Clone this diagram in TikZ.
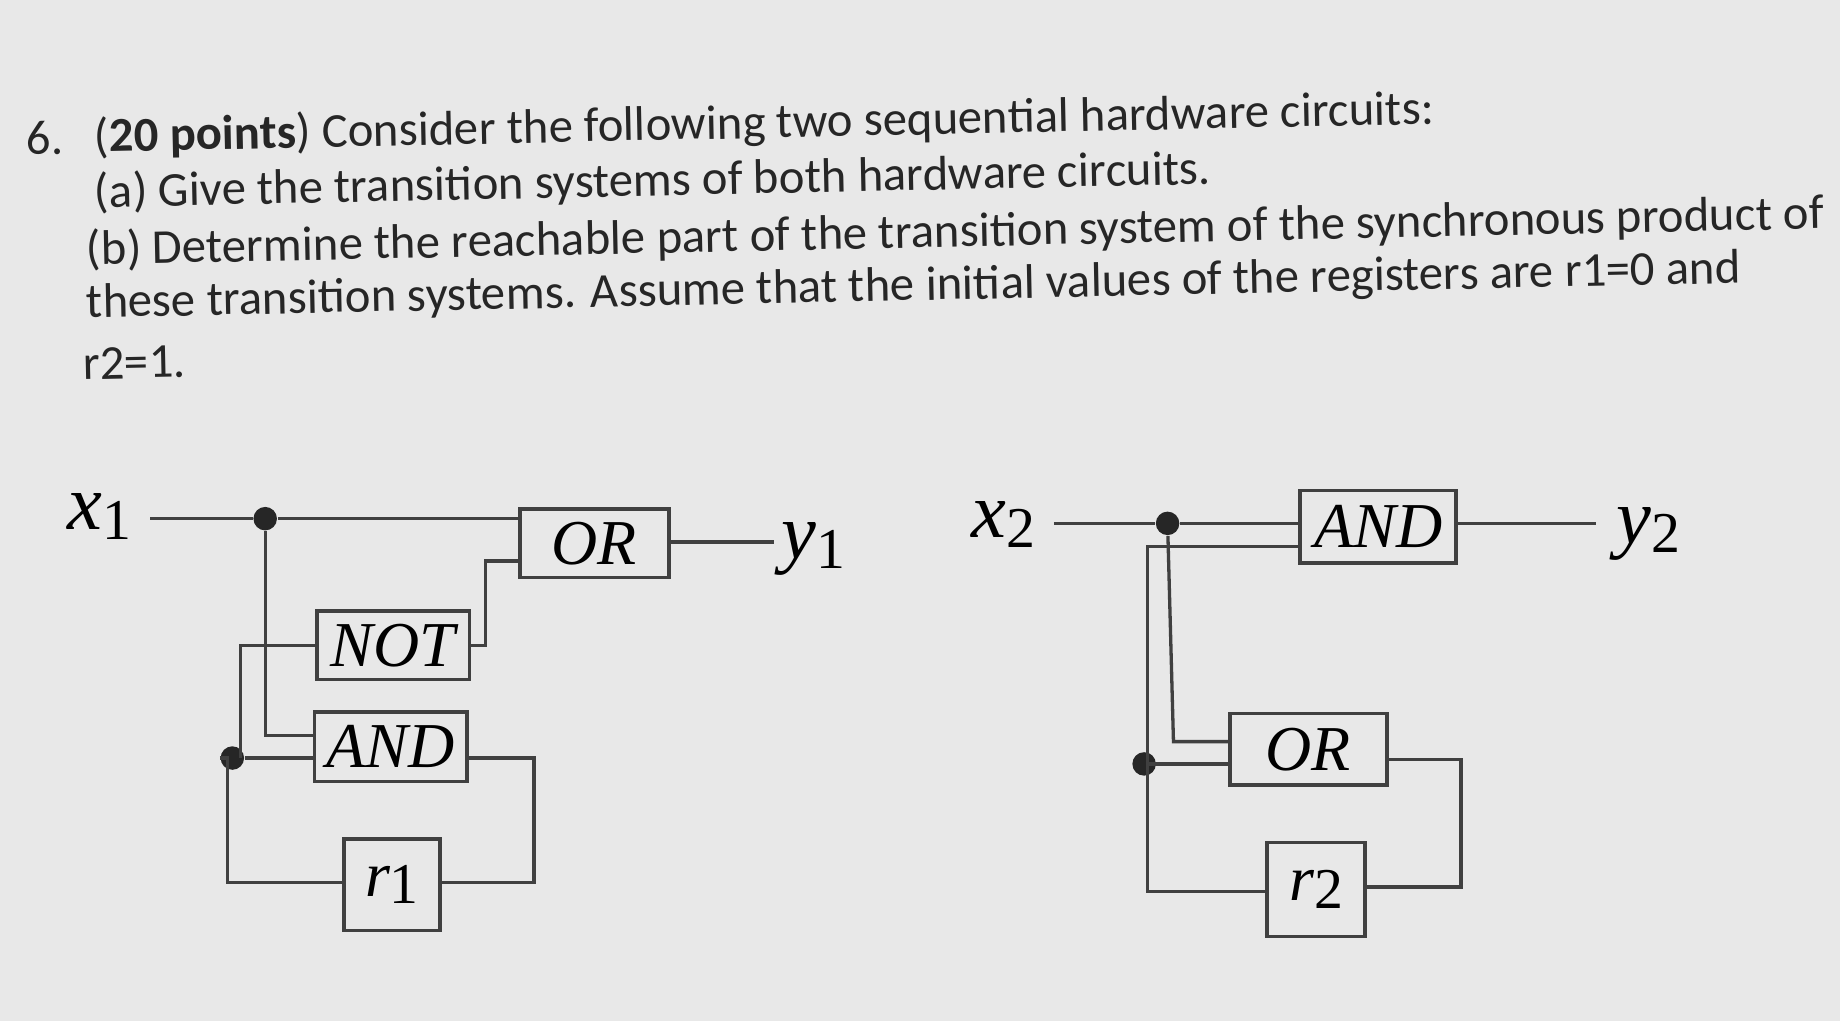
\documentclass[tikz,border=0pt]{standalone}
\usepackage{fontspec}
\setmainfont{Carlito}
\newfontfamily\tnr{Liberation Serif}
\newcommand{\lsub}[2]{\textit{#1}\raisebox{-0.12em}{\upshape\fontsize{14}{14}\selectfont #2}}
\begin{document}
\begin{tikzpicture}[x=0.01cm,y=-0.01cm,
  gate/.style={draw=black!75,line width=0.9pt,inner sep=0pt,font=\tnr\itshape\fontsize{15.5}{15.5}\selectfont},
  wire/.style={draw=black!75,line width=0.8pt},
  dot/.style={circle,fill=black!85,inner sep=0pt,minimum size=0.2cm},
  lbl/.style={font=\tnr\fontsize{19}{19}\selectfont,inner sep=0pt},
  txt/.style={anchor=west,inner sep=0pt,font=\fontsize{11.8}{13}\selectfont,rotate=1.2,text=black!85}]
\fill[black!9] (0,0) rectangle (1568,870);
\useasboundingbox (0,0) rectangle (1568,870);
% text
\node[txt] (t0) at (22,118) {6.};
\node[txt] (t1) at (80,118) {(\textbf{20 points}) Consider the following two sequential hardware circuits:};
\node[txt] (t2) at (80,165) {(a) Give the transition systems of both hardware circuits.};
\node[txt] (t3) at (73,214) {(b) Determine the reachable part of the transition system of the synchronous product of};
\node[txt] (t4) at (73,260) {these transition systems. Assume that the initial values of the registers are r1=0 and};
\node[txt] (t5) at (70,310) {r2=1.};
% left circuit
\node[gate,minimum width=1.27cm,minimum height=0.58cm] (or1) at (506.5,463) {OR};
\node[gate,minimum width=1.30cm,minimum height=0.58cm] (not1) at (335,550) {NOT};
\node[gate,minimum width=1.30cm,minimum height=0.59cm] (and1) at (333,636.5) {AND};
\node[gate,minimum width=0.82cm,minimum height=0.78cm] (r1) at (334,754) {\lsub{r}{1}};
\node[lbl] (x1) at (85,440) {\lsub{x}{1}};
\node[lbl] (y1) at (693,468) {\lsub{y}{1}};
\node[dot] (d1) at (226,442) {};
\node[dot] (d2) at (198,646) {};
\coordinate (x1e) at (128,442);
\coordinate (y1e) at (660,462);
\draw[wire] (x1e) -- (d1) -- (443,442);
\draw[wire] (or1.east |- y1e) -- (y1e);
\draw[wire] (not1.east) -- (414,550) -- (414,478) -- (or1.west |- 0,478);
\draw[wire] (d1) -- (226,627) -- (and1.west |- 0,627);
\draw[wire] (not1.west) -- (205,550) -- (205,646);
\draw[wire] (d2) -- (and1.west |- d2);
\draw[wire] (d2) -- (194,646) -- (194,752) -- (r1.west |- 0,752);
\draw[wire] (r1.east |- 0,752) -- (455,752) -- (455,646) -- (and1.east |- 0,646);
% right circuit
\node[gate,minimum width=1.33cm,minimum height=0.62cm] (and2) at (1174.5,449) {AND};
\node[gate,minimum width=1.34cm,minimum height=0.61cm] (or2) at (1115,638.5) {OR};
\node[gate,minimum width=0.83cm,minimum height=0.80cm] (r2) at (1121.5,758) {\lsub{r}{2}};
\node[lbl] (x2) at (855,447) {\lsub{x}{2}};
\node[lbl] (y2) at (1405,455) {\lsub{y}{2}};
\node[dot] (d3) at (995,446) {};
\node[dot] (d4) at (975,651) {};
\coordinate (x2e) at (898,446);
\coordinate (y2e) at (1360,446);
\draw[wire] (x2e) -- (d3) -- (and2.west |- d3);
\draw[wire] (and2.east |- y2e) -- (y2e);
\draw[wire] (and2.west |- 0,466) -- (978,466) -- (978,651);
\draw[wire] (d3) -- (1000,632) -- (or2.west |- 0,632);
\draw[wire] (d4) -- (or2.west |- d4);
\draw[wire] (d4) -- (978,651) -- (978,760) -- (r2.west |- 0,760);
\draw[wire] (or2.east |- 0,647) -- (1245,647) -- (1245,756) -- (r2.east |- 0,756);
\end{tikzpicture}
\end{document}
